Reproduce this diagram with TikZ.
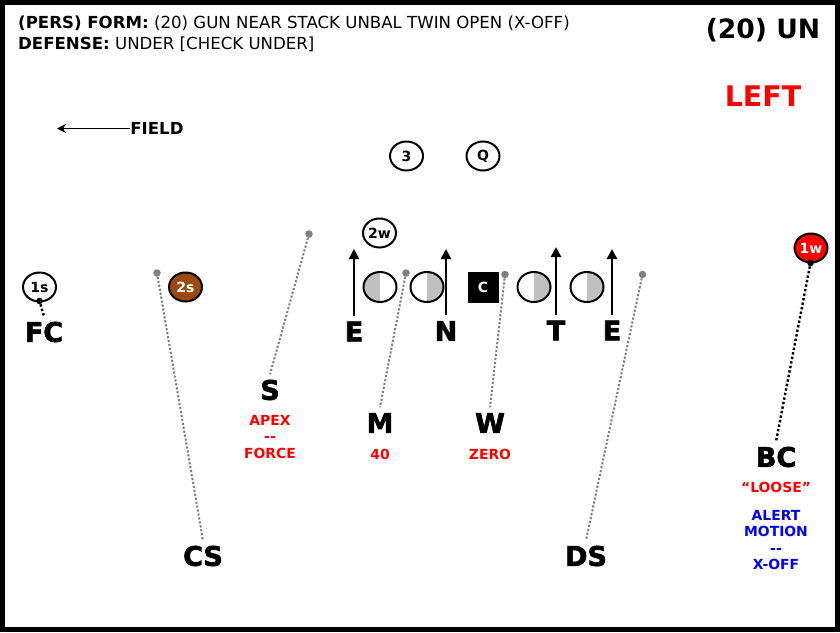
\documentclass[tikz,border=0pt]{standalone}
\usepackage{xcolor}
\usepackage{fontspec}
\setmainfont{DejaVu Sans}
\newfontfamily\tagfont[FakeBold=2.2]{DejaVu Sans Bold}
\usetikzlibrary{shapes,arrows.meta}
\definecolor{twobrown}{HTML}{9C4A09}
\definecolor{halfgray}{HTML}{C0C0C0}
\definecolor{dotgray}{HTML}{808080}
\tikzset{
  back/.style={ellipse,draw=black,line width=2pt,minimum width=33pt,minimum height=29pt,inner sep=0pt,font=\fontsize{14}{14}\selectfont\bfseries},
  oline/.style={ellipse,draw=black,line width=2pt,minimum width=33pt,minimum height=30pt,inner sep=0pt},
  grayleft/.style={oline,path picture={\fill[halfgray] (path picture bounding box.south west) rectangle (path picture bounding box.north);}},
  grayright/.style={oline,path picture={\fill[halfgray] (path picture bounding box.south) rectangle (path picture bounding box.north east);}},
  tag/.style={inner sep=0pt,minimum height=31pt,yshift=1pt,font=\fontsize{27}{27}\tagfont},
  call/.style={align=center,inner sep=0pt,font=\fontsize{13.9}{16.5}\selectfont\bfseries},
  gdot/.style={circle,fill=dotgray,inner sep=0pt,minimum size=7.5pt},
  bdot/.style={circle,fill=black,inner sep=0pt,minimum size=6.5pt},
  gline/.style={dotgray,line width=2pt,dash pattern=on 2.2pt off 1.8pt},
  bline/.style={black,line width=2.4pt,dash pattern=on 2.4pt off 2.2pt},
  stem/.style={black,line width=2.8pt,-{Triangle[length=10pt,width=10pt]}}
}
\begin{document}
\begin{tikzpicture}[x=1pt,y=-1pt]
      \useasboundingbox (0,0) rectangle (840,632);
      \draw[line width=5pt] (2.5,2.5) rectangle (837.5,629.5);
      \node[anchor=north west,align=left,inner sep=0pt,font=\fontsize{16.6}{21}\selectfont] (title) at (18,16)
          {\textbf{(PERS) FORM:} (20) GUN NEAR STACK UNBAL TWIN OPEN (X-OFF)\\\textbf{DEFENSE:} UNDER [CHECK UNDER]};
      \node[font=\fontsize{26.6}{28}\selectfont\bfseries] (count) at (763,30) {(20) UN};
      \node[text=red,font=\fontsize{28.4}{28}\selectfont\bfseries] (side) at (763,96) {LEFT};
      \node[inner sep=0pt,font=\fontsize{16.6}{16}\selectfont\bfseries] (field) at (157,128.5) {FIELD};
      \coordinate (fieldtip) at (57,128.5);
      \draw[line width=1.4pt,-{Stealth[length=9pt,width=9pt]}] (field.west) -- (fieldtip);

      \foreach \n/\x/\y/\t in {three/406.5/156/3,qb/483/156/Q,twow/379.5/233/2w,ones/39.5/287/1s}
               {\node[back] (\n) at (\x,\y) {\t};}
      \node[back,fill=twobrown,text=white] (twos) at (185.5,287) {2s};
      \node[back,fill=red,text=white] (onew) at (811,248) {1w};

      \foreach \n/\x in {lg/380}
               {\node[grayleft] (\n) at (\x,287) {};}
      \foreach \n/\x in {ln/427,rg/534,rt/587}
               {\node[grayright] (\n) at (\x,287) {};}
      \node[rectangle,fill=black,text=white,minimum size=31pt,inner sep=0pt,font=\fontsize{14}{14}\selectfont\bfseries] (center) at (483,287) {C};

      \foreach \n/\x/\y/\t in {fc/44/333/FC,le/354/332.5/E,ln2/446/332/N,rt2/556/331.5/T,re/612/331.5/E,ss/270/391/S,mm/380/424/M,ww/490/424/W,cs/203/557/CS,ds/586/557/DS,bc/776/458/BC}
               {\node[tag] (\n) at (\x,\y) {\t};}

      \foreach \n/\x/\y in {le/354/249,ln2/446/249,rt2/556/247,re/612/249}
               {\coordinate (\n tip) at (\x,\y);
                \draw[stem] (\n.north) -- (\n tip);}

      \foreach \n/\x/\y/\e in {dcs/157/273/cs,dss/309/234/ss,dmm/406/273/mm,dww/505/274.5/ww,dds/642.5/274.5/ds}
               {\node[gdot] (\n) at (\x,\y) {};
                \draw[gline] (\n) -- (\e.north);}

      \node[bdot] (dfc) at (39.5,301) {};
      \node[bdot] (dbc) at (810.5,263) {};
      \draw[bline] (dfc) -- (fc.north);
      \draw[bline] (dbc) -- (bc.north);

      \node[call,text=red] (ssnote) at (270,437) {APEX\\-{}-\\FORCE};
      \node[call,text=red] (mmnote) at (380,454) {40};
      \node[call,text=red] (wwnote) at (490,454) {ZERO};
      \node[call,text=red] (bcnote) at (776,487.5) {“LOOSE”};
      \node[call,text=blue] (bcalert) at (776,540) {ALERT\\MOTION\\-{}-\\X-OFF};
\end{tikzpicture}
\end{document}
